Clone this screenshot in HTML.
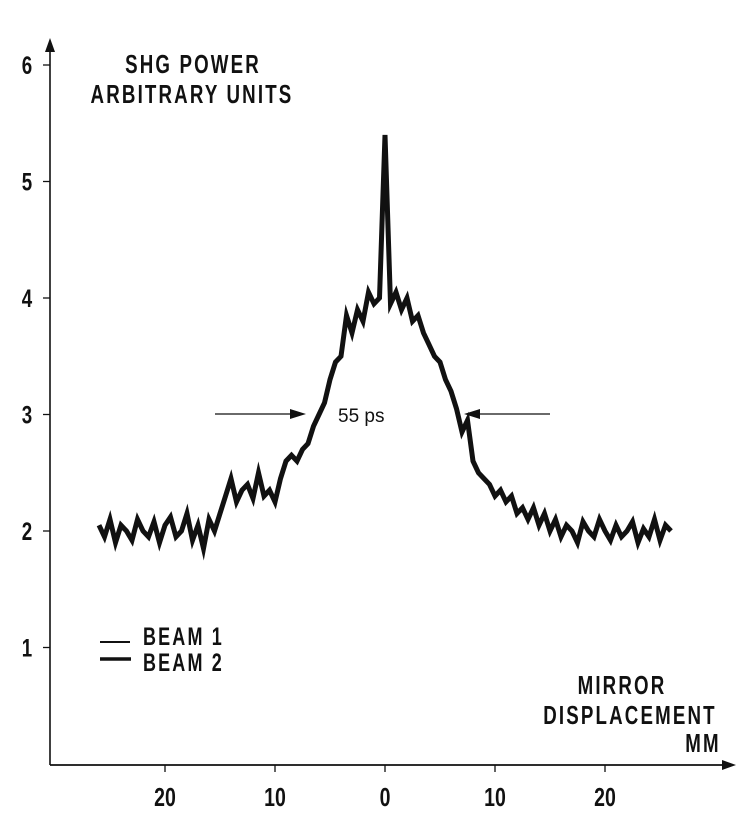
<!DOCTYPE html>
<html><head><meta charset="utf-8"><style>
html,body{margin:0;padding:0;background:#fff;}
svg text{font-family:"Liberation Sans",sans-serif;font-weight:bold;fill:#111;}
</style></head><body>
<svg id="chart" width="748" height="822" viewBox="0 0 748 822" xmlns="http://www.w3.org/2000/svg">
<g id="axes"></g>
<g id="marks"></g>
<text x="193" y="73" font-size="26" text-anchor="middle" transform="translate(193,0) scale(0.72,1) translate(-193,0)" letter-spacing="3">SHG POWER</text>
<text x="192" y="103" font-size="26" text-anchor="middle" transform="translate(192,0) scale(0.72,1) translate(-192,0)" letter-spacing="3">ARBITRARY UNITS</text>
<text x="622" y="694" font-size="26" text-anchor="middle" transform="translate(622,0) scale(0.72,1) translate(-622,0)" letter-spacing="3">MIRROR</text>
<text x="630" y="724" font-size="26" text-anchor="middle" transform="translate(630,0) scale(0.72,1) translate(-630,0)" letter-spacing="3">DISPLACEMENT</text>
<text x="703" y="752" font-size="26" text-anchor="middle" transform="translate(703,0) scale(0.72,1) translate(-703,0)" letter-spacing="3">MM</text>
<g>
<line x1="100" y1="642" x2="130" y2="642" stroke="#111" stroke-width="2"/>
<line x1="100" y1="659" x2="131" y2="659" stroke="#111" stroke-width="3.5"/>
<text x="143" y="645" font-size="25" transform="translate(143,0) scale(0.72,1) translate(-143,0)" letter-spacing="3">BEAM 1</text>
<text x="143" y="671" font-size="25" transform="translate(143,0) scale(0.72,1) translate(-143,0)" letter-spacing="3">BEAM 2</text>
</g>
<g>
<line x1="215" y1="414" x2="300" y2="414" stroke="#111" stroke-width="1.3"/>
<polygon points="306,414 290,409 290,419" fill="#111"/>
<line x1="470" y1="414" x2="550" y2="414" stroke="#111" stroke-width="1.3"/>
<polygon points="464,414 480,409 480,419" fill="#111"/>
<text x="338" y="422" font-size="19" style="font-weight:normal">55 ps</text>
</g>
</svg>
<script>
const yTicks=[1,2,3,4,5,6];
const xTicks=[-20,-10,0,10,20];
const xTickLabels=["20","10","0","10","20"];
const xStart=-26, xStep=0.5;
const beamValues=[2.05,1.95,2.1,1.9,2.05,2.0,1.92,2.1,2.0,1.95,2.08,1.9,2.05,2.12,1.95,2.0,2.15,1.92,2.05,1.85,2.1,2.0,2.15,
2.3,2.45,2.25,2.35,2.4,2.28,2.5,2.3,2.35,2.25,
2.45,2.6,2.65,2.6,2.7,2.75,
2.9,3.0,3.1,3.3,3.45,3.5,3.85,3.7,
3.9,3.8,4.05,3.95,4.0,
5.4,
3.95,4.05,3.9,4.0,3.8,3.85,
3.7,3.6,3.5,3.45,3.3,3.2,3.05,2.85,
2.95,2.6,2.5,2.45,2.4,2.3,
2.35,2.25,2.3,2.15,2.2,2.1,2.2,2.05,2.15,2.0,
2.1,1.95,2.05,2.0,1.9,2.08,2.0,1.95,2.1,2.0,1.92,2.05,1.95,2.0,2.08,1.9,2.02,1.95,2.1,1.92,2.05,2.0];
const NS="http://www.w3.org/2000/svg";
function X(mm){return 385+mm*11.0;}
function Y(v){return 764-v*116.5;}
function mk(tag,attrs,parent){const e=document.createElementNS(NS,tag);for(const k in attrs)e.setAttribute(k,attrs[k]);parent.appendChild(e);return e;}
const axes=document.getElementById('axes');
let e=mk('line',{x1:50,y1:765,x2:50,y2:46,stroke:'#111','stroke-width':1.6},axes);


e=mk('polygon',{points:'50,38 45,52 55,52',fill:'#111'},axes);


e=mk('line',{x1:50,y1:765,x2:726,y2:765,stroke:'#111','stroke-width':1.8},axes);


e=mk('polygon',{points:'736,765 722,760 722,770',fill:'#111'},axes);


yTicks.forEach(t=>{
 const l=mk('line',{x1:43,y1:Y(t),x2:50,y2:Y(t),stroke:'#111','stroke-width':1.3},axes);
 
 
 const tx=mk('text',{x:27,y:Y(t)+9,'font-size':25,'text-anchor':'middle',transform:`translate(27,0) scale(0.75,1) translate(-27,0)`},axes);
 tx.textContent=String(t);
 
 
});
xTicks.forEach((t,i)=>{
 const l=mk('line',{x1:X(t),y1:765,x2:X(t),y2:772,stroke:'#111','stroke-width':1.3},axes);
 
 
 const tx=mk('text',{x:X(t),y:806,'font-size':26,'text-anchor':'middle',transform:`translate(${X(t)},0) scale(0.75,1) translate(${-X(t)},0)`},axes);
 tx.textContent=xTickLabels[i];
 
 
});
const marks=document.getElementById('marks');
const pts=beamValues.map((v,i)=>X(xStart+i*xStep).toFixed(1)+','+Y(v).toFixed(1)).join(' ');
const p=mk('polyline',{points:pts,fill:'none',stroke:'#111','stroke-width':5,'stroke-linejoin':'miter','stroke-miterlimit':10},marks);


</script>
</body></html>
